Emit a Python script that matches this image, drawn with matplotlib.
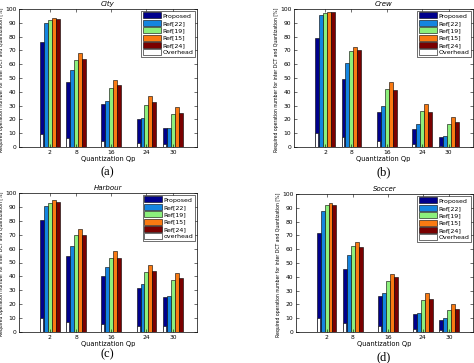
import numpy as np
import matplotlib.pyplot as plt

# Quantization parameter values (x positions)
qp = [2, 8, 16, 24, 30]
series_names = ['Proposed', 'Ref[22]', 'Ref[19]', 'Ref[15]', 'Ref[24]']
colors = ['#00008C', '#1485E0', '#8CF07C', '#FA7A12', '#7A0000']

# City
city_proposed = [76, 47, 31, 20.5, 14]
city_ref22 = [89.5, 56, 33.5, 21, 14]
city_ref19 = [92, 63, 42.5, 30.5, 24]
city_ref15 = [93.5, 68, 48.5, 37, 29]
city_ref24 = [93, 64, 45, 32.5, 24.5]
city_overhead = [9.5, 6.5, 4.5, 3, 2]

# Crew
crew_proposed = [79, 49, 25.5, 13, 7.5]
crew_ref22 = [96, 61, 29.5, 16.5, 8]
crew_ref19 = [97, 69.5, 42, 26, 16.5]
crew_ref15 = [98, 72.5, 47, 31, 21.5]
crew_ref24 = [97.5, 70, 41.5, 25, 18]
crew_overhead = [10, 7, 4, 2, 1]

# Harbour
harbour_proposed = [80.5, 54.5, 40.5, 31.5, 25]
harbour_ref22 = [91, 62, 46.5, 34.5, 26]
harbour_ref19 = [93, 70, 53, 43, 37.5]
harbour_ref15 = [95, 74, 58, 48, 42.5]
harbour_ref24 = [93.5, 70, 53, 44, 38.5]
harbour_overhead = [10, 7, 6, 4.5, 4]

# Soccer
soccer_proposed = [72, 45.5, 26, 13, 8.5]
soccer_ref22 = [88, 55.5, 28, 14, 10]
soccer_ref19 = [92, 62, 37, 23, 16]
soccer_ref15 = [93.5, 65.5, 42, 28.5, 20.5]
soccer_ref24 = [92, 61.5, 39.5, 24, 16.5]
soccer_overhead = [10, 6.5, 4.5, 2, 1.5]

panels = [
    ('City', '(a)', [city_proposed, city_ref22, city_ref19, city_ref15, city_ref24], city_overhead, 'Overhead'),
    ('Crew', '(b)', [crew_proposed, crew_ref22, crew_ref19, crew_ref15, crew_ref24], crew_overhead, 'Overhead'),
    ('Harbour', '(c)', [harbour_proposed, harbour_ref22, harbour_ref19, harbour_ref15, harbour_ref24], harbour_overhead, 'overhead'),
    ('Soccer', '(d)', [soccer_proposed, soccer_ref22, soccer_ref19, soccer_ref15, soccer_ref24], soccer_overhead, 'Overhead'),
]

W, H = 474, 363
fig = plt.figure(figsize=(W / 100, H / 100), dpi=100)

# axes boxes in pixels: left, top, right, bottom
boxes = [(19, 9, 197, 147), (294, 9, 473, 147), (19, 193, 197, 332), (296, 194, 473, 332)]
label_pos = [(107, 172), (384, 172), (107, 354), (384, 357)]

bw = 0.9
x = np.array(qp, dtype=float)
for (title, tag, vals, over, over_name), (l, t, r, b), (lx, ly) in zip(panels, boxes, label_pos):
    ax = fig.add_axes([l / W, 1 - b / H, (r - l) / W, (b - t) / H])
    for i, (v, c, name) in enumerate(zip(vals, colors, series_names)):
        ax.bar(x + (i - 2) * bw, v, width=bw, color=c, edgecolor='black', linewidth=0.4, label=name)
    ax.bar(x - 2 * bw - bw / 2, over, width=bw * 0.75, align='edge', color='white',
           edgecolor='black', linewidth=0.4, label=over_name)
    ax.set_xlim(-5, 35.5)
    ax.set_ylim(0, 100)
    ax.set_xticks(qp)
    ax.set_yticks(range(0, 101, 10))
    ax.tick_params(direction='in', length=2, width=0.4, labelsize=4.3, pad=2, top=True, right=True)
    for s in ax.spines.values():
        s.set_linewidth(0.5)
    ax.set_title(title, fontsize=5, style='italic', pad=2)
    ax.set_xlabel('Quantization Qp', fontsize=4.8, labelpad=1)
    ax.set_ylabel('Required operation number for inter DCT and Quantization [%]', fontsize=3.3)
    ax.yaxis.set_label_coords(-15 / (r - l), 0.49)
    leg = ax.legend(loc='upper right', fontsize=4.5, handlelength=2.8, handleheight=1.1,
                    borderpad=0.3, labelspacing=0.2, handletextpad=0.3, fancybox=False,
                    framealpha=1, edgecolor='black', borderaxespad=0.25)
    leg.get_frame().set_linewidth(0.4)
    fig.text(lx / W, 1 - ly / H, tag, fontsize=9, family='Liberation Serif', ha='center', va='center')

fig.savefig('out.png', dpi=100)
